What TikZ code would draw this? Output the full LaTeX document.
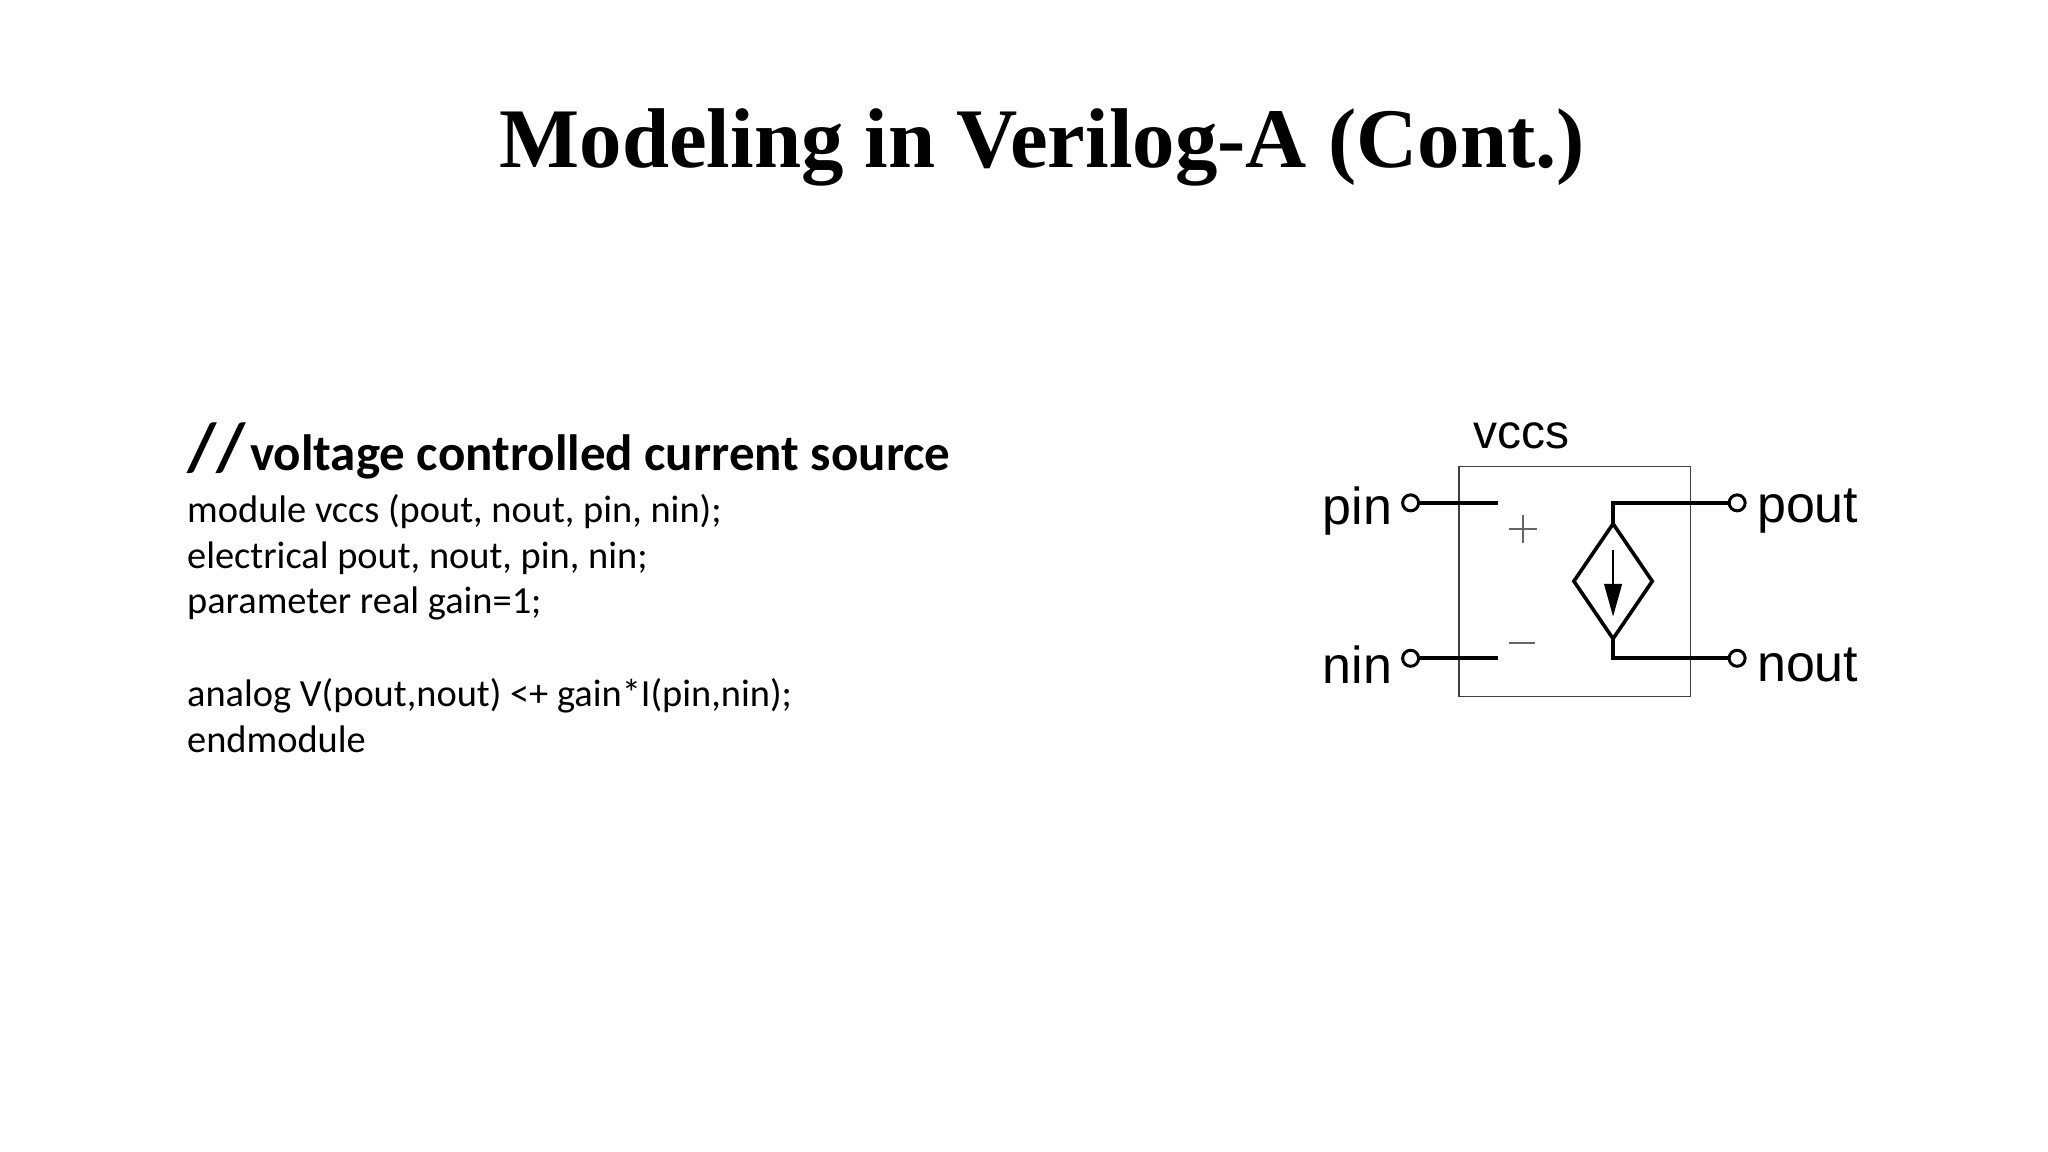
\documentclass[tikz,border=0pt]{standalone}
\usepackage{fontspec}
\setmainfont{Carlito}
\newfontfamily\titlefont{Liberation Serif}
\newfontfamily\schfont{Liberation Sans}
\begin{document}
\begin{tikzpicture}[x=0.653pt,y=-0.653pt,
  code/.style={anchor=base west,inner sep=0pt,font=\fontsize{19.2}{22}\selectfont},
  wire/.style={line width=1.8pt},
  term/.style={circle,draw,line width=1.5pt,minimum size=8pt,inner sep=0pt,fill=white},
  lab/.style={inner sep=0pt,font=\schfont\fontsize{26}{30}\selectfont}]
\useasboundingbox (0,0) rectangle (1568,882);
\fill[white] (0,0) rectangle (1568,882);
\node[inner sep=0pt,font=\titlefont\bfseries\fontsize{42.4}{50}\selectfont] (title) at (798,113) {Modeling in Verilog-A (Cont.)};
\node[anchor=base west,inner sep=0pt] (h) at (143,360) {{\fontsize{34}{36}\selectfont\bfseries //} {\fontsize{25.5}{28}\selectfont\bfseries voltage controlled current source}};
\node[code] (l1) at (143,400) {module vccs (pout, nout, pin, nin);};
\node[code] (l2) at (143,435) {electrical pout, nout, pin, nin;};
\node[code] (l3) at (143,470) {parameter real gain=1;};
\node[code] (l4) at (143,541) {analog V(pout,nout) <+ gain*I(pin,nin);};
\node[code] (l5) at (143,576) {endmodule};
% schematic
\draw[line width=0.6pt,black!75] (1117,357) rectangle (1294,533);
\node[lab,font=\schfont\fontsize{24}{28}\selectfont] (vccs) at (1165,334) {vccs};
\coordinate (pe) at (1147,385); \coordinate (ne) at (1147,504);
\node[term] (tpin) at (1080,385) {};
\node[term] (tnin) at (1080,504) {};
\node[term] (tpout) at (1330,385) {};
\node[term] (tnout) at (1330,504) {};
\draw[wire] (tpin) -- (pe);
\draw[wire] (tnin) -- (ne);
\node[lab,anchor=east] at (1066,391) {pin};
\node[lab,anchor=east] at (1066,509) {nin};
\node[lab,anchor=west] at (1345,391) {pout};
\node[lab,anchor=west] at (1345,509) {nout};
\draw[black!60,line width=0.8pt] (1155,405) -- (1177,405) (1166,394) -- (1166,416);
\draw[black!60,line width=1pt] (1155,492) -- (1175,492);
\coordinate (dt) at (1235,401); \coordinate (db) at (1235,489);
\draw[wire,line join=miter] (dt) -- (1265,445) -- (db) -- (1205,445) -- cycle;
\draw[wire] (tpout) -- (1235,385) -- (dt);
\draw[wire] (db) -- (1235,504) -- (tnout);
\draw[line width=1.2pt] (1235,421) -- (1235,455);
\fill (1228,447) -- (1242,447) -- (1235,472) -- cycle;
\end{tikzpicture}
\end{document}
